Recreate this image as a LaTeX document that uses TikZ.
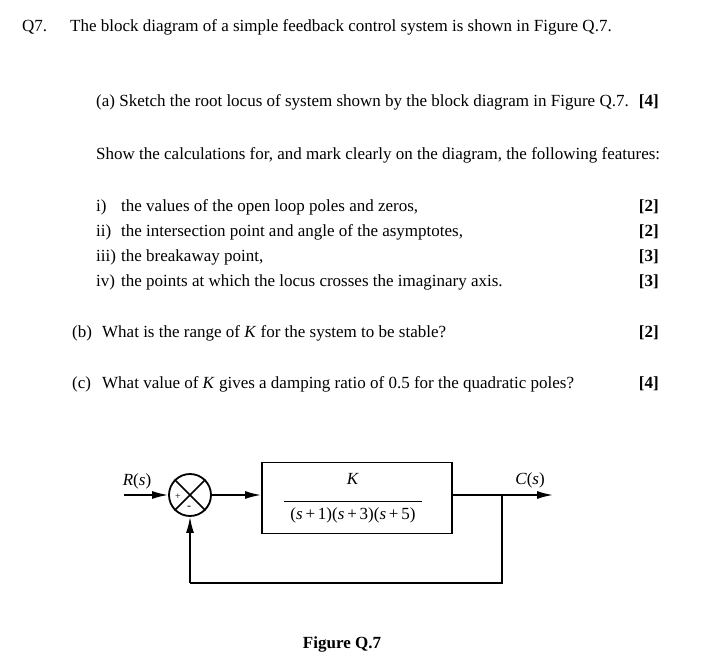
\documentclass[tikz,border=0pt]{standalone}
\usepackage{fontspec}
\setmainfont{Liberation Serif}
\usetikzlibrary{arrows.meta}
\begin{document}
\begin{tikzpicture}[x=1pt,y=-1pt,
  txt/.style={anchor=base west,inner sep=0pt,font=\fontsize{17}{20}\selectfont},
  mk/.style={anchor=base east,inner sep=0pt,font=\fontsize{17}{20}\selectfont\bfseries},
  line/.style={line width=1.6pt},
  arr/.style={line width=1.6pt,-{Latex[length=16pt,width=8pt]}}]
\useasboundingbox (0,0) rectangle (710,668);
\node[txt] (q) at (22,32) {Q7.};
\node[txt] (t0) at (70,32) {The block diagram of a simple feedback control system is shown in Figure Q.7.};
\node[txt] (a) at (96,107) {(a) Sketch the root locus of system shown by the block diagram in Figure Q.7.};
\node[mk] (ma) at (659,107) {[4]};
\node[txt] (sh) at (96,160) {Show the calculations for, and mark clearly on the diagram, the following features:};
\node[txt] (l1) at (96,212) {i)};
\node[txt] (i1) at (121,212) {the values of the open loop poles and zeros,};
\node[mk] (m1) at (659,212) {[2]};
\node[txt] (l2) at (96,237) {ii)};
\node[txt] (i2) at (121,237) {the intersection point and angle of the asymptotes,};
\node[mk] (m2) at (659,237) {[2]};
\node[txt] (l3) at (96,262) {iii)};
\node[txt] (i3) at (121,262) {the breakaway point,};
\node[mk] (m3) at (659,262) {[3]};
\node[txt] (l4) at (96,287) {iv)};
\node[txt] (i4) at (121,287) {the points at which the locus crosses the imaginary axis.};
\node[mk] (m4) at (659,287) {[3]};
\node[txt] (lb) at (72,338) {(b)};
\node[txt] (b) at (102,338) {What is the range of \textit{K} for the system to be stable?};
\node[mk] (mb) at (659,338) {[2]};
\node[txt] (lc) at (72,389) {(c)};
\node[txt] (c) at (102,389) {What value of \textit{K} gives a damping ratio of 0.5 for the quadratic poles?};
\node[mk] (mc) at (659,389) {[4]};
% block diagram
\node[circle,draw,line width=1.8pt,minimum size=42pt,inner sep=0pt] (sum) at (190,495) {};
\draw[line] (sum.45) -- (sum.225) (sum.135) -- (sum.315);
\node[font=\fontsize{10}{10}\selectfont,inner sep=0pt] (pl) at (178,497) {+};
\node[font=\fontsize{12}{12}\selectfont,inner sep=0pt] (mi) at (189,508) {-};
\node[draw,line width=1.6pt,minimum width=190pt,minimum height=71pt,anchor=west,inner sep=0pt] (g) at (261,498) {};
\node[inner sep=0pt,font=\fontsize{17}{20}\selectfont,align=center] (gt) at (353,498)
  {\textit{K}\\[-2pt]\rule{138pt}{0.8pt}\\[-3pt](\textit{s}\,+\,1)(\textit{s}\,+\,3)(\textit{s}\,+\,5)};
\coordinate (in) at (124,495);
\coordinate (out) at (553,495);
\coordinate (br) at (502,495);
\coordinate (bl) at (502,583);
\coordinate (bb) at (190,583);
\node[inner sep=0pt,font=\fontsize{17}{20}\selectfont,anchor=base] (r) at (137,485) {\textit{R}(\textit{s})};
\node[inner sep=0pt,font=\fontsize{17}{20}\selectfont,anchor=base] (cs) at (530,484) {\textit{C}(\textit{s})};
\draw[arr] (in) -- (sum.west);
\draw[arr] (sum.east) -- (sum.east -| g.west);
\draw[arr] (g.east |- br) -- (out);
\draw[line] (br) -- (bl) -- (bb);
\draw[arr] (bb) -- (sum.south);
\node[inner sep=0pt,font=\fontsize{17}{20}\selectfont\bfseries,anchor=base] (fig) at (342,648) {Figure Q.7};
\end{tikzpicture}
\end{document}
